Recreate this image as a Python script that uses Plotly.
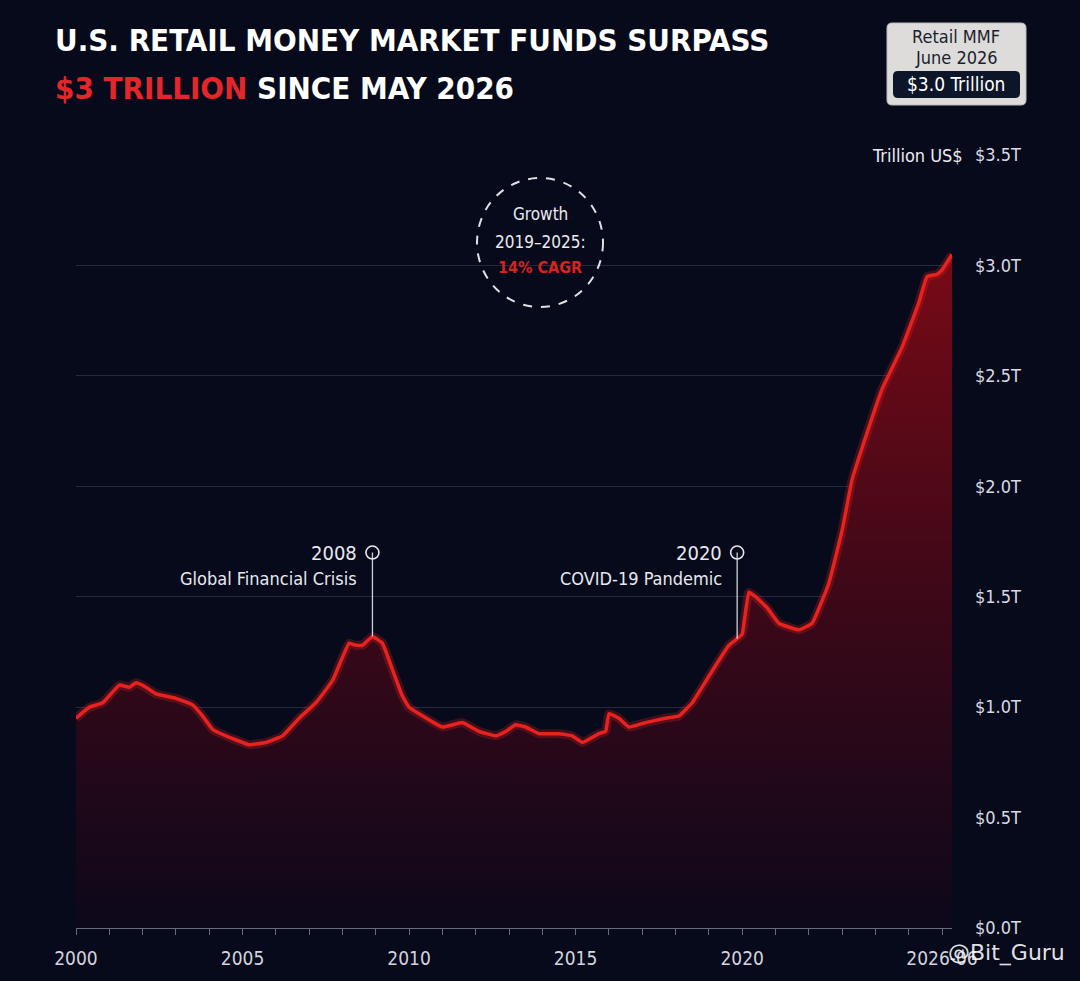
import plotly.graph_objects as go

# retail money market fund assets, trillion US$
years = [2000.0, 2000.4, 2000.8, 2001.3, 2001.6, 2001.8, 2002.1, 2002.4, 2003.0, 2003.5,
         2003.8, 2004.1, 2004.5, 2005.2, 2005.7, 2006.2, 2006.7, 2007.2, 2007.7, 2008.2,
         2008.4, 2008.6, 2008.9, 2009.2, 2009.5, 2009.8, 2010.0, 2010.3, 2011.0, 2011.6,
         2012.1, 2012.6, 2012.9, 2013.2, 2013.5, 2013.9, 2014.5, 2014.9, 2015.2, 2015.7,
         2015.9, 2016.0, 2016.3, 2016.6, 2017.1, 2017.7, 2018.1, 2018.5, 2019.0, 2019.6,
         2019.85, 2020.0, 2020.2, 2020.4, 2020.75, 2021.1, 2021.7, 2022.1, 2022.6, 2023.0,
         2023.3, 2023.7, 2024.2, 2024.8, 2025.3, 2025.55, 2025.85, 2026.0, 2026.3]
assets = [0.95, 1.00, 1.02, 1.10, 1.09, 1.11, 1.09, 1.06, 1.04, 1.01,
          0.96, 0.90, 0.87, 0.83, 0.84, 0.87, 0.95, 1.02, 1.12, 1.29,
          1.28, 1.28, 1.32, 1.29, 1.17, 1.05, 1.00, 0.97, 0.91, 0.93,
          0.89, 0.87, 0.89, 0.92, 0.91, 0.88, 0.88, 0.87, 0.84, 0.88,
          0.89, 0.97, 0.95, 0.91, 0.93, 0.95, 0.96, 1.02, 1.14, 1.28,
          1.31, 1.33, 1.52, 1.50, 1.45, 1.38, 1.35, 1.38, 1.56, 1.80,
          2.03, 2.22, 2.44, 2.63, 2.83, 2.95, 2.96, 2.98, 3.05]

y_ticks = [0.0, 0.5, 1.0, 1.5, 2.0, 2.5, 3.0, 3.5]
y_labels = ['$0.0T', '$0.5T', '$1.0T', '$1.5T', '$2.0T', '$2.5T', '$3.0T', '$3.5T']
x_ticks = [2000, 2005, 2010, 2015, 2020, 2026.0]
x_labels = ['2000', '2005', '2010', '2015', '2020', '2026-06']

event_years = [2008.9, 2019.85]
event_years_lbl = ['2008', '2020']
event_names = ['Global Financial Crisis', 'COVID-19 Pandemic']
event_top = 1.70

BG = '#060a1b'
RED = '#e8221f'
FONT = 'DejaVu Sans Condensed, Liberation Sans Narrow, sans-serif'

# pixel helpers for layout placement
L, R, T, B = 76, 952, 155, 928
def px(x):
    return (x - L) / (R - L)
def py(y):
    return (B - y) / (B - T)


def rounded_box(x0, y0, x1, y1, r):
    # svg path in paper coords, corners given in pixels
    rx = r / (R - L)
    ry = r / (B - T)
    a, b, c, d = px(x0), px(x1), py(y0), py(y1)
    return (f'M{a + rx},{c} L{b - rx},{c} Q{b},{c} {b},{c - ry} '
            f'L{b},{d + ry} Q{b},{d} {b - rx},{d} L{a + rx},{d} Q{a},{d} {a},{d + ry} '
            f'L{a},{c - ry} Q{a},{c} {a + rx},{c} Z')


fig = go.Figure()

# area with vertical gradient
fig.add_trace(go.Scatter(
    x=years, y=assets, mode='lines', line=dict(width=0),
    fill='tozeroy',
    fillgradient=dict(type='vertical', start=0, stop=3.05,
                      colorscale=[[0, 'rgba(12,8,26,1)'], [0.5, 'rgba(62,8,24,1)'], [1, 'rgba(120,10,22,1)']]),
    hoverinfo='skip', showlegend=False
))
# glow
fig.add_trace(go.Scatter(
    x=years, y=assets, mode='lines',
    line=dict(color='rgba(232,34,31,0.25)', width=9, shape='spline', smoothing=0.3),
    hoverinfo='skip', showlegend=False
))
fig.add_trace(go.Scatter(
    x=years, y=assets, mode='lines',
    line=dict(color=RED, width=3.5, shape='spline', smoothing=0.3),
    showlegend=False
))

# event callouts
for ey, lbl, name in zip(event_years, event_years_lbl, event_names):
    val = assets[years.index(ey)]
    fig.add_trace(go.Scatter(
        x=[ey, ey], y=[val, event_top], mode='lines',
        line=dict(color='rgba(230,230,235,0.9)', width=1.3),
        hoverinfo='skip', showlegend=False
    ))
    fig.add_trace(go.Scatter(
        x=[ey], y=[event_top], mode='markers',
        marker=dict(symbol='circle-open', size=13, color='#e8e8ee', line=dict(width=1.6)),
        hoverinfo='skip', showlegend=False
    ))
    fig.add_annotation(x=ey, y=event_top, xshift=-13, xanchor='right', yanchor='middle',
                       text=lbl, showarrow=False, font=dict(size=20, color='#e8e8ee', family=FONT))
    fig.add_annotation(x=ey, y=event_top, xshift=-13, yshift=-26, xanchor='right', yanchor='middle',
                       text=name, showarrow=False, font=dict(size=18, color='#e8e8ee', family=FONT))


def note(x, y, text, size, color, anchor='center', **kw):
    fig.add_annotation(xref='paper', yref='paper', x=px(x), y=py(y), xanchor=anchor, yanchor='middle',
                       text=text, showarrow=False, font=dict(size=size, color=color, family=FONT), **kw)


# title
note(53, 40, '<b>U.S. RETAIL MONEY MARKET FUNDS SURPASS</b>', 31, 'white', 'left')
note(53, 88, "<b><span style='color:#e3262a'>$3 TRILLION</span> SINCE MAY 2026</b>", 31, 'white', 'left')

# info box top right
fig.add_shape(type='path', xref='paper', yref='paper', path=rounded_box(887, 23, 1026, 105, 5),
              fillcolor='#dedbdb', line=dict(color='#bdbabb', width=1), layer='below')
fig.add_shape(type='path', xref='paper', yref='paper', path=rounded_box(893, 71, 1020, 98, 5),
              fillcolor='#0d1528', line=dict(width=0), layer='below')
note(956, 37, 'Retail MMF', 18, '#1a1f2e')
note(956, 57, 'June 2026', 18, '#1a1f2e')
note(956, 84, '$3.0 Trillion', 19, 'white')

# growth circle
fig.add_shape(type='circle', xref='paper', yref='paper', x0=px(477), x1=px(603), y0=py(307), y1=py(178),
              line=dict(color='#e0e0e6', width=2, dash='dash'))
note(540, 214, 'Growth', 17, '#ececf0')
note(540, 242, '2019–2025:', 17, '#ececf0')
note(540, 268, '<b>14% CAGR</b>', 16, '#d8221f')

# unit label covering the end of the top gridline
note(966, 155, 'Trillion US$', 18, '#ececf0', 'right', bgcolor=BG, borderpad=2)

# watermark
fig.add_annotation(xref='paper', yref='paper', x=px(946), y=py(953), xanchor='left', yanchor='middle',
                   text='@Bit_Guru', showarrow=False,
                   font=dict(size=22, color='rgba(255,255,255,0.9)', family='DejaVu Sans'))

fig.update_layout(
    width=1080, height=981,
    paper_bgcolor=BG, plot_bgcolor=BG,
    margin=dict(l=L, r=1080 - R, t=T, b=981 - B),
    showlegend=False,
    font=dict(family=FONT, color='#d6d6de'),
    xaxis=dict(range=[2000, 2026.3], tickvals=x_ticks, ticktext=x_labels, ticks='',
               showgrid=False, zeroline=False, showline=True, linecolor='rgba(190,190,205,0.55)',
               ticklabelstandoff=13, tickfont=dict(size=19, color='#d4d4de', family=FONT),
               minor=dict(dtick=1, tick0=2000, ticks='outside', ticklen=6,
                          tickcolor='rgba(190,190,205,0.55)', showgrid=False)),
    yaxis=dict(range=[0, 3.5], side='right', tickvals=y_ticks, ticktext=y_labels,
               showgrid=True, gridcolor='rgba(150,155,185,0.22)', gridwidth=1, zeroline=False,
               ticks='', ticklabelstandoff=22, tickfont=dict(size=18, color='#dadae2', family=FONT)),
)

fig.write_html('out.html', config={'displayModeBar': False},
               post_script="document.body.style.margin='0';document.body.style.background='#060a1b';")
